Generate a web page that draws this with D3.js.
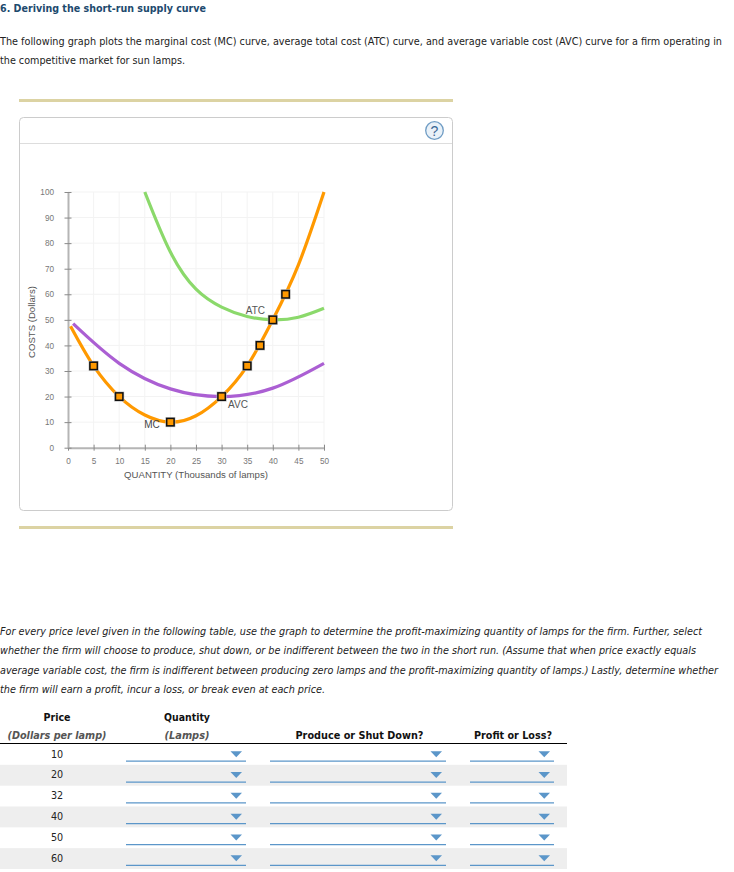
<!DOCTYPE html>
<html><head><meta charset="utf-8">
<script src="https://cdn.jsdelivr.net/npm/d3@7/dist/d3.min.js"></script>
<style>html,body{margin:0;padding:0;background:#fff;overflow:hidden}svg{display:block}
text{font-family:"DejaVu Sans",Verdana,sans-serif}
.chart text{font-family:"Liberation Sans",Arial,sans-serif}</style>
</head><body><script>
const titleText = "6. Deriving the short-run supply curve";
const introLines = ["The following graph plots the marginal cost (MC) curve, average total cost (ATC) curve, and average variable cost (AVC) curve for a firm operating in","the competitive market for sun lamps."];
const instrLines = ["For every price level given in the following table, use the graph to determine the profit-maximizing quantity of lamps for the firm. Further, select","whether the firm will choose to produce, shut down, or be indifferent between the two in the short run. (Assume that when price exactly equals","average variable cost, the firm is indifferent between producing zero lamps and the profit-maximizing quantity of lamps.) Lastly, determine whether","the firm will earn a profit, incur a loss, or break even at each price."];
const prices = [10,20,32,40,50,60];
const xTicks = [0,5,10,15,20,25,30,35,40,45,50];
const yTicks = [0,10,20,30,40,50,60,70,80,90,100];
const mcQ = [0.5,5,10,15,20,25,30,35,40,45,50];
const mcC = [47.5,32,20,12.8,10,12.5,20,32,50,71.5,100];
const atcQ = [15,20,25,30,35,40,45,50];
const atcC = [100,76.5,62,55,51.3,50,51,54.5];
const avcQ = [1,10,20,30,40,50];
const avcC = [48.5,33,23,20,23.3,33];
const markQ = [5,10,20,30,35,37.5,40,42.5];
const markC = [32,20,10,20,32,40,50,60];

const svg = d3.select("body").append("svg").attr("width",734).attr("height",872);
const bodyLine = (t,y,len,style)=>svg.append("text").attr("x",0).attr("y",y).attr("font-size",9.6)
  .attr("font-style",style||null).attr("fill","#222").attr("textLength",len).attr("lengthAdjust","spacingAndGlyphs").text(t);

svg.append("text").attr("x",0).attr("y",12).attr("font-size",9.6).attr("font-weight","bold").attr("fill","#1d4a6e")
  .attr("textLength",206).attr("lengthAdjust","spacingAndGlyphs").text(titleText);
[[722],[185]].forEach((l,i)=>bodyLine(introLines[i],45+i*18.5,l[0]));

// panel
svg.append("rect").attr("x",19).attr("y",99).attr("width",434).attr("height",3).attr("fill","#dcd3a3");
svg.append("rect").attr("x",19).attr("y",526).attr("width",434).attr("height",3).attr("fill","#dcd3a3");
svg.append("rect").attr("x",19.5).attr("y",117.5).attr("width",433).attr("height",393).attr("rx",4)
  .attr("fill","#fff").attr("stroke","#ccc");
svg.append("line").attr("x1",20).attr("x2",452).attr("y1",143.5).attr("y2",143.5).attr("stroke","#ddd");
svg.append("circle").attr("cx",434.5).attr("cy",130.5).attr("r",8.8).attr("fill","#e9f1f8").attr("stroke","#6f9cc4").attr("stroke-width",1.3);
svg.append("text").attr("x",434.5).attr("y",135.5).attr("text-anchor","middle").attr("font-size",14).attr("fill","#3a6796").style("font-family",'"Liberation Sans",Arial,sans-serif').text("?");

// chart
const x = d3.scaleLinear().domain([0,50]).range([68,324]);
const y = d3.scaleLinear().domain([0,100]).range([447.7,192]);
const g = svg.append("g").attr("class","chart");
g.append("g").selectAll("line").data(xTicks.slice(1)).join("line")
  .attr("x1",d=>x(d)).attr("x2",d=>x(d)).attr("y1",y(0)).attr("y2",y(100)).attr("stroke","#f3f3f3");
g.append("g").selectAll("line").data(yTicks.slice(1)).join("line")
  .attr("x1",x(0)).attr("x2",x(50)).attr("y1",d=>y(d)).attr("y2",d=>y(d)).attr("stroke","#f3f3f3");

const styleAxis = (a,horizontal)=>{
  a.selectAll(".domain").attr("stroke","#b5b5b5").attr("stroke-width",2);
  a.selectAll(".tick line").attr("stroke","#8a8a8a");
  if(horizontal) a.selectAll(".tick line").attr("y1",-3).attr("y2",3);
  else a.selectAll(".tick line").attr("x1",-3.5).attr("x2",3.5);
  a.selectAll("text").attr("fill","#777").attr("font-size",8.2).style("font-family",'"Liberation Sans",Arial,sans-serif');
};
const ax = g.append("g").attr("transform",`translate(0,${y(0)})`)
  .call(d3.axisBottom(x).tickValues(xTicks).tickSizeOuter(0).tickPadding(4));
styleAxis(ax,true);
const ay = g.append("g").attr("transform",`translate(${x(0)},0)`)
  .call(d3.axisLeft(y).tickValues(yTicks).tickSizeOuter(0).tickPadding(8));
styleAxis(ay,false);

const line = d3.line().x(d=>x(d[0])).y(d=>y(d[1])).curve(d3.curveNatural);
const curve = (qs,cs,col)=>g.append("path").datum(qs.map((q,i)=>[q,cs[i]])).attr("d",line)
  .attr("fill","none").attr("stroke",col).attr("stroke-width",3.2);
curve(atcQ,atcC,"#8bd96b");
curve(avcQ,avcC,"#ab5fd3");
curve(mcQ,mcC,"#ff9900");

const marks = g.append("g").selectAll("g").data(markQ.map((q,i)=>[q,markC[i]])).join("g")
  .attr("transform",d=>`translate(${x(d[0])},${y(d[1])})`);
marks.append("rect").attr("x",-5).attr("y",-5).attr("width",10).attr("height",10).attr("fill","#bbb");
marks.append("rect").attr("x",-3.7).attr("y",-3.7).attr("width",7.4).attr("height",7.4)
  .attr("fill","#ff9900").attr("stroke","#111").attr("stroke-width",1.5);

const lab = (t,px,py,fs,col,rot)=>{const e=g.append("text").attr("x",px).attr("y",py).attr("text-anchor","middle")
  .attr("dominant-baseline","central").attr("font-size",fs).attr("fill",col).text(t);
  if(rot) e.attr("transform",`rotate(-90 ${px} ${py})`);};
lab("MC",x(16.4),y(9.2),10,"#444");
lab("ATC",x(36.6),y(53.5),10,"#555");
lab("AVC",x(33.2),y(17),10,"#555");
lab("QUANTITY (Thousands of lamps)",196,474.5,9.6,"#555");
lab("COSTS (Dollars)",31.5,322,9.6,"#555",true);

// instructions
[[702],[696],[718],[325]].forEach((l,i)=>bodyLine(instrLines[i],635+i*19.3,l[0],"italic"));

// table
const rowTop = d3.scaleBand().domain(d3.range(prices.length)).range([744,869]);
svg.append("g").selectAll("rect").data(prices.filter((p,i)=>i%2==1)).join("rect")
  .attr("x",0).attr("width",567).attr("y",d=>rowTop(prices.indexOf(d))).attr("height",rowTop.bandwidth()).attr("fill","#eeeeee");
svg.append("line").attr("x1",0).attr("x2",567).attr("y1",743.5).attr("y2",743.5).attr("stroke","#000").attr("stroke-width",1);
const hdr=(t,cx,yy,len,st,col)=>svg.append("text").attr("x",cx).attr("y",yy).attr("text-anchor","middle").attr("font-size",9.6)
  .attr("font-weight","bold").attr("font-style",st||null).attr("fill",col||"#111").attr("textLength",len).attr("lengthAdjust","spacingAndGlyphs").text(t);
hdr("Price",57,721,27);
hdr("(Dollars per lamp)",57,739,99,"italic","#555");
hdr("Quantity",187,721,46);
hdr("(Lamps)",187,739,45,"italic","#555");
hdr("Produce or Shut Down?",359.5,739,128);
hdr("Profit or Loss?",513,739,78);
svg.append("g").selectAll("text").data(prices).join("text")
  .attr("x",57).attr("y",(d,i)=>rowTop(i)+rowTop.bandwidth()/2+3.2).attr("text-anchor","middle").attr("font-size",9.6).attr("fill","#222").text(d=>d);
[[126,246],[270,446],[470,554]].forEach(([a,b])=>{
  prices.forEach((p,i)=>{
    const t=rowTop(i);
    svg.append("line").attr("x1",a).attr("x2",b).attr("y1",t+17.2).attr("y2",t+17.2).attr("stroke","#5b96c9").attr("stroke-width",1.2);
    svg.append("path").attr("d",`M${b-15.5},${t+7.2}h11.5l-5.75,6z`).attr("fill","#5b96c9");
  });
});
</script></body></html>
